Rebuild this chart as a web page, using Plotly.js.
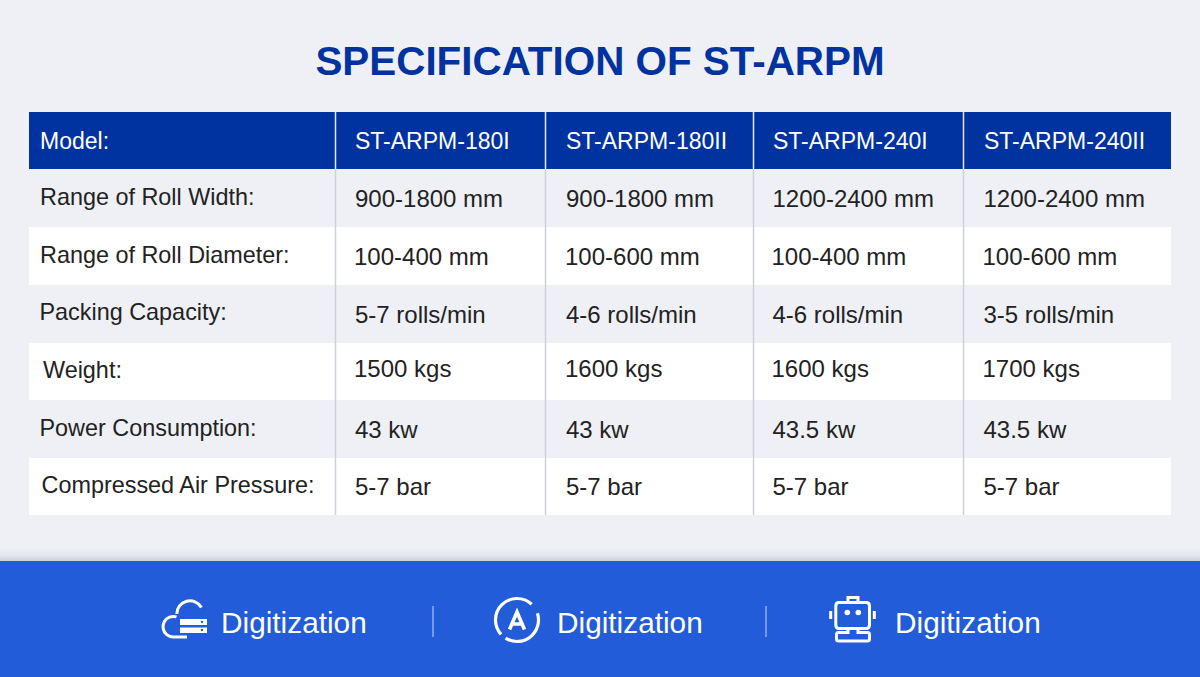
<!DOCTYPE html>
<html><head><meta charset="utf-8">
<script src="https://cdn.plot.ly/plotly-3.0.1.min.js"></script>
<style>html,body{margin:0;padding:0;background:#eef0f5}#c{width:1200px;height:677px}</style>
</head><body><div id="c"></div>
<script>
// ---------- data ----------
const chartTitle = 'SPECIFICATION OF ST-ARPM';
const headerLabel = 'Model:';
const models = ['ST-ARPM-180I','ST-ARPM-180II','ST-ARPM-240I','ST-ARPM-240II'];
const rowLabels = ['Range of Roll Width:','Range of Roll Diameter:','Packing Capacity:','Weight:','Power Consumption:','Compressed Air Pressure:'];
const col180I  = ['900-1800 mm','100-400 mm','5-7 rolls/min','1500 kgs','43 kw','5-7 bar'];
const col180II = ['900-1800 mm','100-600 mm','4-6 rolls/min','1600 kgs','43 kw','5-7 bar'];
const col240I  = ['1200-2400 mm','100-400 mm','4-6 rolls/min','1600 kgs','43.5 kw','5-7 bar'];
const col240II = ['1200-2400 mm','100-600 mm','3-5 rolls/min','1700 kgs','43.5 kw','5-7 bar'];
const footerLabels = ['Digitization','Digitization','Digitization'];

// ---------- style / layout ----------
const W=1200,H=677;
const BG='#eef0f5',NAVY='#0033a0',BAND='#225cd8',INK='#222222',SEP='#ccd1da';
const colEdges=[29,335,545,753,963,1171];
const rowEdges=[112,169,227,285,343,400,458,515];
const footerX=[221,557,895];
const FONT='"Liberation Sans", Arial, sans-serif';
// text anchors on the page axis
const labelX=[40,40,39.5,43,39.5,41.5];
const labelY=[199,257,314,372,430,487];
const valueY=[201,259,317,371,432,489];
const valueX=[[355,354,355,354,355,355],[566,565,566,565,566,566],[772.5,771.5,772.5,771.5,772.5,772.5],[983.5,982.5,983.5,982.5,983.5,983.5]];
const headerX=[40,355,566,773,984];
const headerY=143;

const textTrace=(x,y,text,size,color)=>({type:'scatter',mode:'text',x,y,text,textposition:'middle right',
  textfont:{family:FONT,size,color},hoverinfo:'skip',showlegend:false,cliponaxis:false});

const traces=[
  textTrace(headerX,headerX.map(()=>headerY),[headerLabel].concat(models),23,'#ffffff'),
  textTrace(labelX,labelY,rowLabels,23.4,INK),
  textTrace(valueX[0],valueY,col180I,24,INK),
  textTrace(valueX[1],valueY,col180II,24,INK),
  textTrace(valueX[2],valueY,col240I,24,INK),
  textTrace(valueX[3],valueY,col240II,24,INK),
  textTrace(footerX,footerX.map(()=>626),footerLabels,29.8,'#ffffff')
];

// ---------- shapes ----------
const shapes=[];
const rect=(x0,y0,x1,y1,fill,layer='below')=>shapes.push({type:'rect',xref:'x',yref:'y',x0,y0,x1,y1,fillcolor:fill,line:{width:0},layer});
const vline=(x,y0,y1,color,w)=>shapes.push({type:'line',xref:'x',yref:'y',x0:x,x1:x,y0,y1,line:{color,width:w},layer:'below'});
const stroke=(path,w=3)=>shapes.push({type:'path',xref:'x',yref:'y',path,line:{color:'#ffffff',width:w},fillcolor:'rgba(0,0,0,0)',layer:'above'});
const dot=(cx,cy,r,fill='#ffffff')=>shapes.push({type:'circle',xref:'x',yref:'y',x0:cx-r,x1:cx+r,y0:cy-r,y1:cy+r,fillcolor:fill,line:{width:0},layer:'above'});
function arc(cx,cy,r,a0,a1){
  const n=Math.ceil(Math.abs(a1-a0)/45);let d='';
  for(let i=0;i<n;i++){
    const t0=(a0+(a1-a0)*i/n)*Math.PI/180,t1=(a0+(a1-a0)*(i+1)/n)*Math.PI/180,k=4/3*Math.tan((t1-t0)/4);
    const P=t=>[cx+r*Math.cos(t),cy+r*Math.sin(t)],p0=P(t0),p1=P(t1);
    if(i===0)d+=`M${p0[0]} ${p0[1]}`;
    d+=`C${p0[0]-k*r*Math.sin(t0)} ${p0[1]+k*r*Math.cos(t0)} ${p1[0]+k*r*Math.sin(t1)} ${p1[1]-k*r*Math.cos(t1)} ${p1[0]} ${p1[1]}`;
  }
  return d;
}
// table fills and separators
rect(colEdges[0],rowEdges[0],colEdges[5],rowEdges[1],NAVY);
[2,4,6].forEach(i=>rect(colEdges[0],rowEdges[i],colEdges[5],rowEdges[i+1],'#ffffff'));
colEdges.slice(1,5).forEach(x=>{
  vline(x+0.5,rowEdges[0],rowEdges[1],'#e6eaf4',1.5);
  vline(x+0.5,rowEdges[1],rowEdges[7],SEP,1.5);
});
// footer band with soft shadow above
const shadowA=[0.004,0.008,0.012,0.016,0.02,0.026,0.032,0.04,0.05,0.06,0.07,0.08];
shadowA.forEach((a,i)=>rect(0,549+i,W,550+i,`rgba(60,70,80,${a*2.1})`));
rect(0,561,W,H,BAND);
[433,766].forEach(x=>vline(x,606,637,'#8fb0ee',1.5));
// cloud icon
stroke(arc(173.3,626.7,10.3,90,288)+'M187 637L173.3 637',3);
stroke(arc(190,614,13.2,-180,-30),3);
rect(180,619,207,625,'#ffffff','above');rect(180,627.5,207,633,'#ffffff','above');
dot(202,622,1.2,BAND);dot(202,630,1.2,BAND);
// circular-arrow "A" icon
stroke(arc(517,620,21.5,-47,-222),3.2);
stroke(arc(517,620,21.5,-18,122),3.2);
stroke('M509.5 629.5L517 612L524.5 629.5M512 624L522 624',3.6);
// robot icon
stroke('M839 602.5L866 602.5Q869.5 602.5 869.5 606L869.5 625Q869.5 628.5 866 628.5L839 628.5Q835.8 628.5 835.8 625L835.8 606Q835.8 602.5 839 602.5Z',3);
stroke('M848 602L848 597.5L858 597.5L858 602',3);
stroke('M848 628.5L848 632.5L838.5 632.5Q836.5 632.5 836.5 634.5L836.5 639Q836.5 641 838.5 641L867.5 641Q869.5 641 869.5 639L869.5 634.5Q869.5 632.5 867.5 632.5L858 632.5L858 628.5',3);
dot(847.3,612.5,2.8);dot(858.3,612.5,2.8);
stroke('M830.7 611L830.7 619',3);stroke('M874.3 611L874.3 619',3);

const layout={width:W,height:H,margin:{l:0,r:0,t:0,b:0,pad:0},
  paper_bgcolor:BG,plot_bgcolor:'rgba(0,0,0,0)',showlegend:false,
  title:{text:chartTitle,x:0.5,xanchor:'center',y:1-61/H,yanchor:'middle',font:{family:FONT,size:40.4,color:NAVY,weight:'bold'}},
  xaxis:{range:[0,W],visible:false,fixedrange:true},
  yaxis:{range:[H,0],visible:false,fixedrange:true},
  shapes};
Plotly.newPlot('c',traces,layout,{displayModeBar:false,staticPlot:true});
</script></body></html>
